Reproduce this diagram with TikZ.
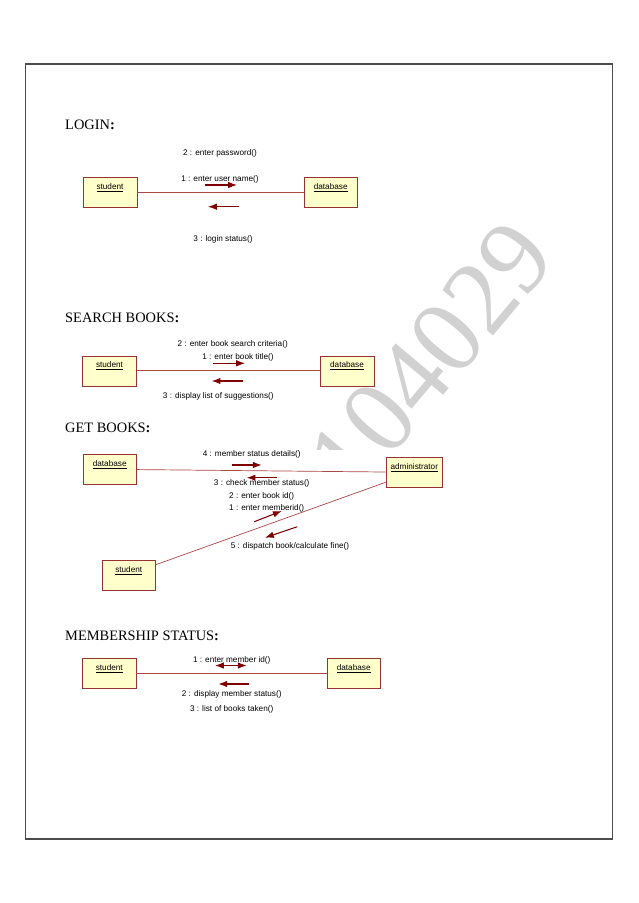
\documentclass[tikz,border=0pt]{standalone}
\usepackage{fontspec}
\setmainfont{Liberation Serif}
\newfontfamily\umlfont{Liberation Sans}
\usepackage{tikz}
\usetikzlibrary{arrows.meta,positioning,calc}
\usepackage{xcolor}
\definecolor{boxfill}{RGB}{255,255,204}
\definecolor{boxline}{RGB}{150,50,50}
\definecolor{linkred}{RGB}{175,70,70}
\definecolor{msgred}{RGB}{128,0,0}
\tikzset{
    objbox/.style={
        rectangle,
        draw=boxline,
        fill=boxfill,
        minimum width=46pt,
        inner xsep=2pt,
        inner ysep=2pt,
        text height=8.4pt,
        text depth=13.2pt,
        font=\umlfont\fontsize{7}{8}\selectfont
    },
    msgtext/.style={
        inner sep=0pt,
        font=\umlfont\fontsize{7}{8}\selectfont
    },
    heading/.style={
        anchor=base west,
        inner sep=0pt,
        font=\fontsize{12.3}{14}\selectfont
    },
    link/.style={
        draw=linkred,
        line width=0.6pt
    },
    msg/.style={
        -{Latex[length=7.5pt,width=5.5pt]},
        msgred,
        line width=0.9pt
    },
    msgboth/.style={
        {Latex[length=7.5pt,width=5.5pt]}-{Latex[length=7.5pt,width=5.5pt]},
        msgred,
        line width=0.9pt
    },
    watermark/.style={
        text=black!18,
        inner sep=0pt,
        rotate=50,
        font=\fontsize{90}{90}\selectfont
    }
}

\begin{document}
\begin{tikzpicture}[x=0.03cm,y=-0.03cm]
    \useasboundingbox (0,0) rectangle (638,903);
    % Watermark, hidden where the get books diagram lies
    \begin{scope}[shift={(430,358)}]
        \node[watermark] (wmark) at (0,0) {104029};
    \end{scope}
    \fill[white] (70,450) rectangle (470,600);
    \draw[black!70, line width=1.2pt] (25.3,64) rectangle (612.3,839);

    % Login
    \node[heading] (hlogin) at (65,130) {LOGIN\textbf{:}};
    \node[objbox] (lstudent) at (110,192.2) {\underline{student}};
    \node[objbox] (ldatabase) at (330.7,192.2) {\underline{database}};
    \draw[link] (lstudent) -- (ldatabase);
    \node[msgtext] (lmsg2) at (220,153) {2 : enter password()};
    \node[msgtext] (lmsg1) at (220,179) {1 : enter user name()};
    \node[msgtext] (lmsg3) at (223,239) {3 : login status()};
    \coordinate (la1) at (205,185);
    \coordinate (la2) at (237,185);
    \coordinate (lb1) at (239,206.7);
    \coordinate (lb2) at (208,206.7);
    \draw[msg] (la1) -- (la2);
    \draw[msg] (lb1) -- (lb2);

    % Search books
    \node[heading] (hsearch) at (65,322) {SEARCH BOOKS\textbf{:}};
    \node[objbox] (sstudent) at (109.5,370.8) {\underline{student}};
    \node[objbox] (sdatabase) at (347,370.8) {\underline{database}};
    \draw[link] (sstudent) -- (sdatabase);
    \node[msgtext] (smsg2) at (232.7,344.3) {2 : enter book search criteria()};
    \node[msgtext] (smsg1) at (238,357.3) {1 : enter book title()};
    \node[msgtext] (smsg3) at (218.3,396.7) {3 : display list of suggestions()};
    \coordinate (sa1) at (213,363.3);
    \coordinate (sa2) at (245,363.3);
    \coordinate (sb1) at (242.7,381);
    \coordinate (sb2) at (211.7,381);
    \draw[msg] (sa1) -- (sa2);
    \draw[msg] (sb1) -- (sb2);

    % Get books
    \node[heading] (hget) at (65,432) {GET BOOKS\textbf{:}};
    \node[objbox] (gdatabase) at (109.7,469.3) {\underline{database}};
    \node[objbox, minimum width=48.4pt] (gadmin) at (414.3,472.3) {\underline{administrator}};
    \node[objbox] (gstudent) at (128.7,575.7) {\underline{student}};
    \draw[link] (gdatabase) -- (gadmin);
    \draw[link] ([yshift=-8.5pt]gadmin.west) -- ([yshift=9.4pt]gstudent.east);
    \node[msgtext] (gmsg4) at (251.7,454) {4 : member status details()};
    \node[msgtext] (gmsg3) at (261.7,483) {3 : check member status()};
    \node[msgtext] (gmsg2) at (261.7,496) {2 : enter book id()};
    \node[msgtext] (gmsg1) at (266.7,508.3) {1 : enter memberid()};
    \node[msgtext] (gmsg5) at (290,546.7) {5 : dispatch book/calculate fine()};
    \coordinate (ga1) at (231.7,465);
    \coordinate (ga2) at (261.7,465);
    \coordinate (gb1) at (276.7,477.7);
    \coordinate (gb2) at (246.7,477.7);
    \coordinate (gc1) at (254.3,521.7);
    \coordinate (gc2) at (281.7,511);
    \coordinate (gd1) at (297.3,526.7);
    \coordinate (gd2) at (265,537.7);
    \draw[msg] (ga1) -- (ga2);
    \draw[msg] (gb1) -- (gb2);
    \draw[msg] (gc1) -- (gc2);
    \draw[msg] (gd1) -- (gd2);

    % Membership status
    \node[heading] (hmember) at (65,640) {MEMBERSHIP STATUS\textbf{:}};
    \node[objbox] (mstudent) at (109.3,673.3) {\underline{student}};
    \node[objbox] (mdatabase) at (353.7,673.3) {\underline{database}};
    \draw[link] (mstudent) -- (mdatabase);
    \node[msgtext] (mmsg1) at (231.7,660.5) {1 : enter member id()};
    \node[msgtext] (mmsg2) at (231.7,694) {2 : display member status()};
    \node[msgtext] (mmsg3) at (231.7,709.3) {3 : list of books taken()};
    \coordinate (ma1) at (215,665.5);
    \coordinate (ma2) at (246.7,665.5);
    \coordinate (mb1) at (249.3,684);
    \coordinate (mb2) at (218.3,684);
    \draw[msgboth] (ma1) -- (ma2);
    \draw[msg] (mb1) -- (mb2);
\end{tikzpicture}
\end{document}
